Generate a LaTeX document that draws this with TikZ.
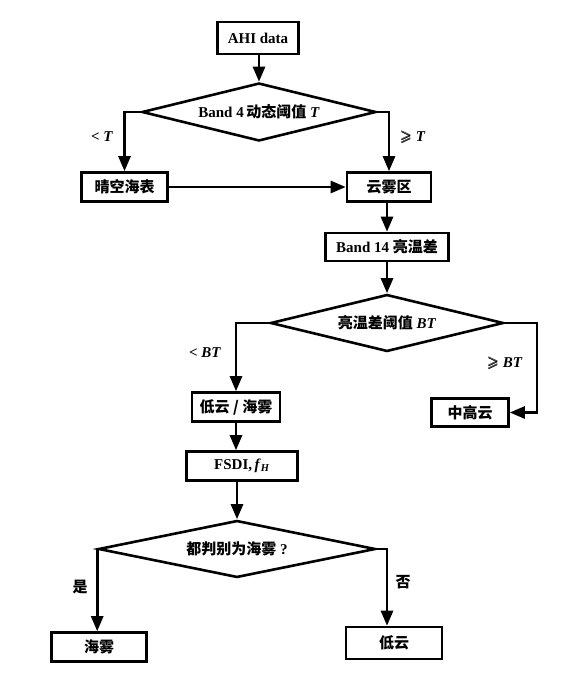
\documentclass[tikz,border=0pt]{standalone}
\usepackage{amsmath,amssymb}
\usepackage{fontspec}
\setmainfont{Liberation Serif}
\newfontfamily\cjk{Noto Sans CJK SC}
\usetikzlibrary{shapes.geometric,arrows.meta}
\newcommand{\zh}[1]{{\cjk\bfseries #1}}
\newcommand{\geqs}{\pmb{$\geqslant$}}
\begin{document}
\begin{tikzpicture}[x=1pt,y=-1pt,
  font=\fontsize{15}{17}\selectfont\bfseries,
  box/.style={draw, line width=2.6pt, inner sep=0pt, rectangle},
  dia/.style={draw, diamond, shape aspect=4, inner sep=0pt, line width=2.6pt},
  arr/.style={line width=2.6pt, -{Triangle[length=15pt,width=12pt]}},
  lbl/.style={inner sep=0pt}]
\useasboundingbox (0,0) rectangle (568,675);
\node[box, minimum width=81pt, minimum height=32pt] (ahi) at (258,38) {AHI data};
\node[dia, minimum width=234pt, minimum height=58pt] (d1) at (259,112) {Band 4\,\zh{动态阈值} \textit{T}};
\node[box, minimum width=86pt, minimum height=29pt] (qk) at (124.5,187) {\zh{晴空海表}};
\node[box, minimum width=84pt, minimum height=29pt] (ywq) at (389,187) {\zh{云雾区}};
\node[box, minimum width=123pt, minimum height=28pt] (b14) at (387,247) {Band 14 \zh{亮温差}};
\node[dia, minimum width=233pt, minimum height=57pt] (d2) at (387,323) {\zh{亮温差阈值} \textit{BT}};
\node[box, minimum width=88pt, minimum height=29pt] (ldhw) at (236,407) {\zh{低云 / 海雾}};
\node[box, minimum width=77pt, minimum height=28pt] (zgy) at (470,412.5) {\zh{中高云}};
\node[box, minimum width=111pt, minimum height=29pt] (fsdi) at (242,466) {FSDI,\,\textit{f}\textsubscript{\textit{H}}};
\node[dia, minimum width=277pt, minimum height=57pt] (d3) at (237,549) {\zh{都判别为海雾} ?};
\node[box, minimum width=95pt, minimum height=29pt] (hw) at (99,647) {\zh{海雾}};
\node[box, minimum width=96pt, minimum height=32pt] (dy) at (394,643) {\zh{低云}};
\coordinate (c1) at (537,323);
\coordinate (c2) at (387,549);
\node[lbl] (l1) at (102,137) {< \textit{T}};
\node[lbl] (l2) at (413,137) {\geqs\ \textit{T}};
\node[lbl] (l3) at (205,353) {< \textit{BT}};
\node[lbl] (l4) at (505,363) {\geqs\ \textit{BT}};
\node[lbl] (l5) at (80,587) {\zh{是}};
\node[lbl] (l6) at (403,582) {\zh{否}};
\draw[arr] (d1.north |- ahi.south) -- (d1.north);
\draw[arr] (d1.west) -| (qk.north);
\draw[arr] (d1.east) -| (ywq.north);
\draw[arr] (qk.east) -- (ywq.west);
\draw[arr] (b14.north |- ywq.south) -- (b14.north);
\draw[arr] (d2.north |- b14.south) -- (d2.north);
\draw[arr] (d2.west) -| (ldhw.north);
\draw[arr] (d2.east) -- (c1) |- (zgy.east);
\draw[arr] (ldhw.south) -- (ldhw.south |- fsdi.north);
\draw[arr] (d3.north |- fsdi.south) -- (d3.north);
\draw[arr] (d3.west) -- (d3.west |- hw.north);
\draw[arr] (d3.east) -- (c2) -- (c2 |- dy.north);
\end{tikzpicture}
\end{document}
